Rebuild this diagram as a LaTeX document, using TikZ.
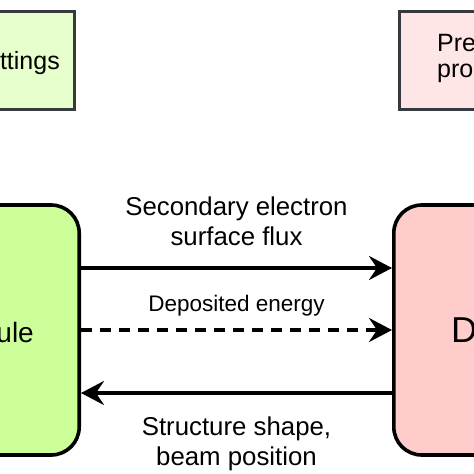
\documentclass[tikz,border=0pt]{standalone}
\usepackage{fontspec}
\setmainfont{Liberation Sans}
\usetikzlibrary{arrows.meta}
\definecolor{setgreen}{HTML}{E6FFCC}
\definecolor{simgreen}{HTML}{CCFF99}
\definecolor{prepink}{HTML}{FFE6E6}
\definecolor{deppink}{HTML}{FFCCCC}
\definecolor{boxgray}{HTML}{36393D}
\tikzset{
  smallbox/.style={draw=boxgray, line width=3pt, minimum height=98pt, inner sep=0pt},
  bigbox/.style={draw=black, line width=3.6pt, rounded corners=28pt, minimum height=250pt, inner sep=0pt},
  flow/.style={line width=3.6pt, -{Stealth[length=23pt,width=24pt,inset=8pt]}},
  lbl/.style={font=\fontsize{25.8}{30}\selectfont, align=center, inner sep=0pt},
}
\begin{document}
\begin{tikzpicture}[x=1pt,y=-1pt]
\useasboundingbox (0,0) rectangle (474,474);
\clip (0,0) rectangle (474,474);
% top row
\node [smallbox, fill=setgreen, minimum width=200pt, anchor=north east] (settings) at (76,10) {};
\node [anchor=base east, inner sep=0pt, font=\fontsize{25}{30}\selectfont] (settext) at (60,69) {ttings};
\node [smallbox, fill=prepink, minimum width=200pt, anchor=north west] (preproc) at (398,10) {};
\node [anchor=base west, inner sep=0pt, font=\fontsize{25}{30}\selectfont] (pretext) at (437,51) {Pre};
\node [anchor=base west, inner sep=0pt, font=\fontsize{25}{30}\selectfont] (protext) at (437,77) {pro};
% main boxes
\node [bigbox, fill=simgreen, minimum width=300pt, anchor=east] (sim) at (81,330) {};
\node [anchor=base east, inner sep=0pt, font=\fontsize{28}{34}\selectfont] (simtext) at (34,342) {ule};
\node [bigbox, fill=deppink, minimum width=300pt, anchor=west] (dep) at (392,330) {};
\node [anchor=base west, inner sep=0pt, font=\fontsize{36}{42}\selectfont] (deptext) at (451,342) {D};
% couplings
\coordinate (a1) at (0,268);
\coordinate (a2) at (0,330);
\coordinate (a3) at (0,393);
\draw [flow] (sim.east |- a1) -- (dep.west |- a1)
    node[lbl, pos=0.5, above=20pt] {Secondary electron\\surface flux};
\draw [flow, dash pattern=on 11pt off 8pt] (sim.east |- a2) -- (dep.west |- a2)
    node[lbl, pos=0.5, above=12pt, font=\fontsize{22.5}{27}\selectfont] {Deposited energy};
\draw [flow] (dep.west |- a3) -- (sim.east |- a3)
    node[lbl, pos=0.5, below=22pt] {Structure shape,\\beam position};
\end{tikzpicture}
\end{document}
